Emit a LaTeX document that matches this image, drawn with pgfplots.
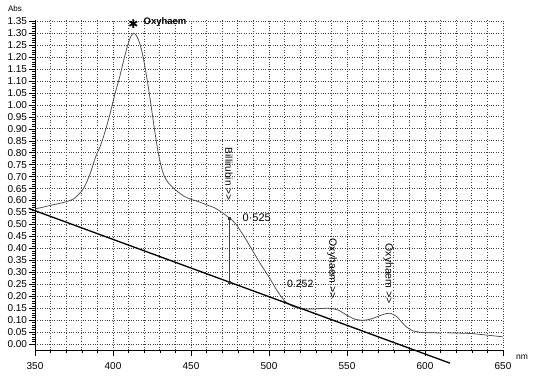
\documentclass[border=0pt]{standalone}
\usepackage{fontspec}
\setmainfont{Liberation Sans}
\newfontfamily\symfont{DejaVu Sans}
\usepackage{pgfplots}
\pgfplotsset{compat=1.18}
\begin{document}
\begin{tikzpicture}
\begin{axis}[
  scale only axis,
  width=468pt, height=330pt,
  xmin=350, xmax=650, ymin=-0.025, ymax=1.355,
  axis x line=bottom, axis y line=left,
  axis line style={-, black, line width=0.7pt},
  xtick={350,400,...,650},
  minor x tick num=4,
  ytick={0,0.05,...,1.36},
  minor y tick num=4,
  tick align=outside,
  major tick length=6pt, minor tick length=3pt,
  tick style={black, line width=0.5pt},
  xmajorgrids, xminorgrids, ymajorgrids,
  grid style={dotted, line width=0.7pt, black!75},
  minor grid style={dotted, line width=0.7pt, black!75},
  tick label style={font=\fontsize{10}{11}\selectfont},
  /pgf/number format/assume math mode=true,
  yticklabel style={/pgf/number format/.cd, fixed, fixed zerofill, precision=2},
  xticklabel style={/pgf/number format/.cd, fixed, precision=0, set thousands separator={}},
  xticklabel shift=3pt,
  yticklabel shift=-1.5pt,
  clip=false,
]
% spectrum
\addplot[black!70, line width=0.75pt, smooth, tension=0.4] coordinates {
(350,0.565) (355,0.572) (360,0.58) (365,0.587) (370,0.595) (375,0.608) (380,0.64)
(383,0.675) (386,0.725) (389,0.785) (392,0.83) (395,0.89) (398,0.96) (401,1.04)
(404,1.11) (407,1.19) (409,1.24) (411,1.28) (413,1.30) (415,1.29) (417,1.26)
(419,1.21) (421,1.14) (423,1.06) (425,0.97) (427,0.88) (429,0.80) (431,0.74)
(433,0.70) (436,0.67) (440,0.645) (445,0.62) (450,0.605) (455,0.595) (460,0.582)
(465,0.57) (470,0.55) (473,0.535) (476,0.52) (479,0.50) (482,0.47) (485,0.44)
(490,0.385) (495,0.33) (500,0.28) (505,0.225) (510,0.18) (515,0.158) (520,0.149)
(525,0.146) (530,0.147) (535,0.149) (540,0.149) (545,0.14) (550,0.12) (555,0.104)
(560,0.099) (565,0.104) (570,0.116) (575,0.127) (578,0.128) (582,0.114) (585,0.092)
(588,0.072) (592,0.056) (596,0.05) (600,0.048) (605,0.047) (610,0.046)
};
\addplot[black!70, line width=0.75pt] coordinates {
(614,0.047) (620,0.046) (630,0.044) (640,0.037) (650,0.030)
};
% baseline
\addplot[black, line width=1.3pt] coordinates {(346,0.567) (616,-0.080)};
% vertical difference line
\addplot[black!75, line width=0.7pt, mark=square*, mark size=1.2pt, mark options={solid, black!80}] coordinates {(474.4,0.525) (474.4,0.258)};
% annotations
\node[anchor=center, font=\fontsize{12}{12}\selectfont\symfont, inner sep=0pt] at (axis cs:413,1.338) {✱};
\node[anchor=west, font=\fontsize{9.5}{10}\selectfont\bfseries, inner sep=0pt] at (axis cs:419.5,1.347) {Oxyhaem};
\node[rotate=-90, anchor=west, font=\fontsize{10}{11}\selectfont, inner sep=1pt] at (axis cs:474.3,0.825) {Billirubin {>}{>}};
\node[rotate=-90, anchor=west, font=\fontsize{10.5}{11}\selectfont, inner sep=1pt] at (axis cs:540.5,0.445) {Oxyhaem {>}{>}};
\node[rotate=-90, anchor=west, font=\fontsize{10.5}{11}\selectfont, inner sep=1pt] at (axis cs:576.5,0.425) {Oxyhaem {>}{>}};
\node[anchor=west, font=\fontsize{11}{12}\selectfont, inner sep=0pt] at (axis cs:483,0.528) {0·525};
\node[anchor=west, font=\fontsize{10.5}{12}\selectfont, inner sep=0pt] at (axis cs:511.5,0.252) {0.252};
\node[font=\fontsize{8}{9}\selectfont] at ([shift={(-20pt,11pt)}]rel axis cs:0,1) {Abs};
\node[font=\fontsize{8.5}{9}\selectfont] at ([shift={(19pt,-7pt)}]rel axis cs:1,0) {nm};
\end{axis}
\pgfresetboundingbox
\path ([shift={(-35pt,-27pt)}]current axis.south west) rectangle ([shift={(30pt,20pt)}]current axis.north east);
\end{tikzpicture}
\end{document}
